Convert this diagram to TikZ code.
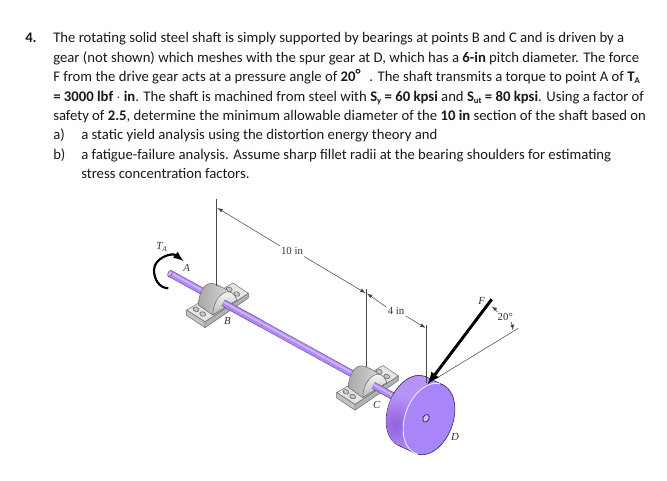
\documentclass[tikz,border=0pt]{standalone}
\usepackage{fontspec}
\setmainfont{Carlito}
\newfontfamily\labfont{Liberation Serif}
\definecolor{shaftpurple}{RGB}{176,136,242}
\definecolor{shaftdark}{RGB}{96,68,145}
\definecolor{shaftlight}{RGB}{208,180,252}
\definecolor{discpurple}{RGB}{182,146,248}
\definecolor{discdark}{RGB}{146,98,222}
\definecolor{edgedark}{RGB}{50,40,75}
\definecolor{dimgray}{RGB}{70,70,70}
\definecolor{textblack}{RGB}{25,25,25}
\newcommand{\subb}[1]{\raisebox{-0.3ex}{\fontsize{6.5}{7}\selectfont\bfseries #1}}
\tikzset{
  txtline/.style={anchor=base west,inner sep=0pt,font=\fontsize{11.03}{13}\selectfont,text=textblack},
  lab/.style={inner sep=0pt,font=\fontsize{8.1}{9}\labfont,text=black!80},
  italab/.style={lab,font=\fontsize{8.1}{9}\labfont\itshape},
  dimline/.style={draw=dimgray,line width=0.4pt},
  shaftline/.style={draw=shaftpurple,line width=4.6pt,
    preaction={draw=shaftdark,line width=5.3pt},
    postaction={draw=shaftlight,line width=1.4pt,transform canvas={shift={(0.3pt,0.5pt)}}}},
  boltring/.style={draw=black!65,fill=black!22,line width=0.4pt},
  housing/.style={draw=black!60,line width=0.35pt,line join=round}
}
\begin{document}
\begin{tikzpicture}[x=0.75pt,y=-0.75pt]
\useasboundingbox (0,0) rectangle (667,480);
\node[txtline] (num) at (25,42) {\textbf{4.}};
\node[txtline] (l1) at (53,42) {The rotating solid steel shaft is simply supported by bearings at points B and C and is driven by a};
\node[txtline] (l2) at (53,62) {gear (not shown) which meshes with the spur gear at D, which has a \textbf{6-in} pitch diameter. The force};
\node[txtline] (l3) at (53,81.5) {F from the drive gear acts at a pressure angle of \textbf{20}\raisebox{0.35ex}{\textbf{°}}\hspace{0.6em}. The shaft transmits a torque to point A of \textbf{T}\subb{A}};
\node[txtline] (l4) at (53,101) {\textbf{= 3000 lbf $\cdot$ in}. The shaft is machined from steel with \textbf{S}\subb{y}\textbf{ = 60 kpsi} and \textbf{S}\subb{ut}\textbf{ = 80 kpsi}. Using a factor of};
\node[txtline] (l5) at (53,120.5) {safety of \textbf{2.5}, determine the minimum allowable diameter of the \textbf{10 in} section of the shaft based on};
\node[txtline] (l6a) at (53,139.5) {a)};
\node[txtline] (l6) at (81,139.5) {a static yield analysis using the distortion energy theory and};
\node[txtline] (l7a) at (53,159) {b)};
\node[txtline] (l7) at (81,159) {a fatigue-failure analysis. Assume sharp fillet radii at the bearing shoulders for estimating};
\node[txtline] (l8) at (81,178.5) {stress concentration factors.};

\coordinate (shaftA) at (170,273.5);
\coordinate (shaftD) at (397,398.4);
\draw[shaftline] (shaftA) -- (shaftD);
\draw[draw=shaftdark,fill=shaftlight,line width=0.4pt,rotate around={-29:(shaftA)}] (shaftA) ellipse [x radius=2,y radius=3.4];

\foreach \bx/\by in {0/0,150/82.5}
{
\begin{scope}[shift={(\bx,\by)}]
\filldraw[fill=black!24,housing] (186.7,310) -- (205,321.7) -- (205,327.7) -- (186.7,315.5) -- cycle;
\filldraw[fill=black!30,housing] (205,321.7) -- (248.3,293.3) -- (248.3,298) -- (205,327.7) -- cycle;
\filldraw[fill=black!10,housing] (186.7,310) -- (205,321.7) -- (248.3,293.3) -- (233,283) -- cycle;
\foreach \hx/\hy in {196/309.3,202.7/314,229.3/289.3,236.7/294}
\draw[boltring,rotate around={-20:(\hx,\hy)}] (\hx,\hy) ellipse [x radius=3,y radius=2.2];
\shade[housing,left color=black!34,right color=black!12]
 (198.3,305) .. controls (198.5,295) and (203,283.3) .. (211.7,283.3) .. controls (216,283.3) and (224,288) .. (231.7,293.3) -- (236.7,300) -- (212.7,315) -- cycle;
\shade[housing,top color=black!4,bottom color=black!28] (212.7,315) .. controls (213,303) and (220,292) .. (228.3,291.7) .. controls (232,292) and (235,295) .. (237,300) -- cycle;
\draw[shaftline] (223.3,302.8) -- (262,324.1);
\end{scope}
}

\coordinate (discC) at (429,419);
\coordinate (rearC) at (412,411);
\coordinate (rearT) at (425.9,376.8);
\coordinate (rearB) at (398.1,445.2);
\coordinate (faceT) at (442.9,384.8);
\coordinate (faceB) at (415.1,453.2);
\draw[edgedark,fill=discpurple,line width=0.45pt,rotate around={70:(rearC)}] (rearC) ellipse [x radius=37,y radius=24];
\fill[discpurple] (rearT) -- (faceT) -- (faceB) -- (rearB) -- cycle;
\begin{scope}
\clip[rotate around={70:(rearC)}] (rearC) ellipse [x radius=36.8,y radius=23.8];
\shade[inner color=discdark,outer color=discpurple] (396,425) circle[radius=30];
\end{scope}
\draw[edgedark,line width=0.45pt] (rearT) -- (faceT);
\draw[edgedark,line width=0.45pt] (rearB) -- (faceB);
\begin{scope}[shift={(discC)},rotate=70]
\fill[discpurple!92!blue] (0,0) ellipse [x radius=37,y radius=24];
\draw[white!85!discpurple,line width=0.6pt] (36.9,-1.4) arc[start angle=-3.4,end angle=-183.4,x radius=37,y radius=24];
\draw[edgedark,line width=0.45pt] (36.9,-1.4) arc[start angle=-3.4,end angle=176.6,x radius=37,y radius=24];
\end{scope}
\draw[edgedark,fill=discpurple!60,line width=0.6pt,rotate around={60:(426,418.3)}] (426,418.3) ellipse [x radius=4,y radius=3];

\coordinate (extBtop) at (216.7,199);
\coordinate (extBbot) at (216.7,286);
\coordinate (extCtop) at (366,289);
\coordinate (extCbot) at (366,367);
\coordinate (extDtop) at (426.3,325);
\coordinate (extDbot) at (426.3,383);
\draw[dimline] (extBtop) -- (extBbot);
\draw[dimline] (extCtop) -- (extCbot);
\draw[dimline] (extDtop) -- (extDbot);

\node[lab] (lab10) at (292,250.7) {10 in};
\node[lab] (lab4) at (396,311) {4 in};
\node[lab] (lab20) at (505.3,317) {20°};
\node[italab] (labF) at (481.7,300.7) {F};
\node[italab] (labA) at (186.7,268.3) {A};
\node[italab] (labB) at (227.3,321) {B};
\node[italab] (labC) at (376.7,405) {C};
\node[italab] (labD) at (455,436.7) {D};
\node[italab] (labT) at (161.7,246.7) {T\raisebox{-0.4ex}{\fontsize{5.5}{6}\selectfont A}};

\coordinate (d10a) at (217.5,208);
\coordinate (d10b) at (365.5,293);
\coordinate (d4a) at (367,293.5);
\coordinate (d4b) at (425.5,327.8);
\draw[dimline,-latex] (lab10.north west) ++(-1,-1) -- (d10a);
\draw[dimline,-latex] (lab10.south east) ++(1,2) -- (d10b);
\draw[dimline,-latex] (lab4.north west) ++(-1,0) -- (d4a);
\draw[dimline,-latex] (lab4.south east) ++(1,1) -- (d4b);

\coordinate (forceTail) at (491.7,299.3);
\coordinate (forceTip) at (427.5,384.5);
\coordinate (refEnd) at (518.3,328.3);
\coordinate (refStart) at (436,378.5);
\draw[dimline] (refStart) -- (refEnd);
\draw[black,line width=2.2pt,-latex] (forceTail) -- (forceTip);
\coordinate (a20) at (491.7,306.5);
\coordinate (b20) at (512.7,330);
\draw[dimline,-latex] (lab20.north west) ++(0,-1) to[bend right=8] (a20);
\draw[dimline,-latex] (lab20.south east) ++(-2,1) to[bend left=8] (b20);

\coordinate (torqueStart) at (168.3,288.3);
\coordinate (torqueEnd) at (183.5,261);
\draw[black,line width=1.6pt,-latex] (torqueStart) .. controls (159,288) and (154,279) .. (154,270) .. controls (154,258) and (172,252) .. (torqueEnd);
\end{tikzpicture}
\end{document}
